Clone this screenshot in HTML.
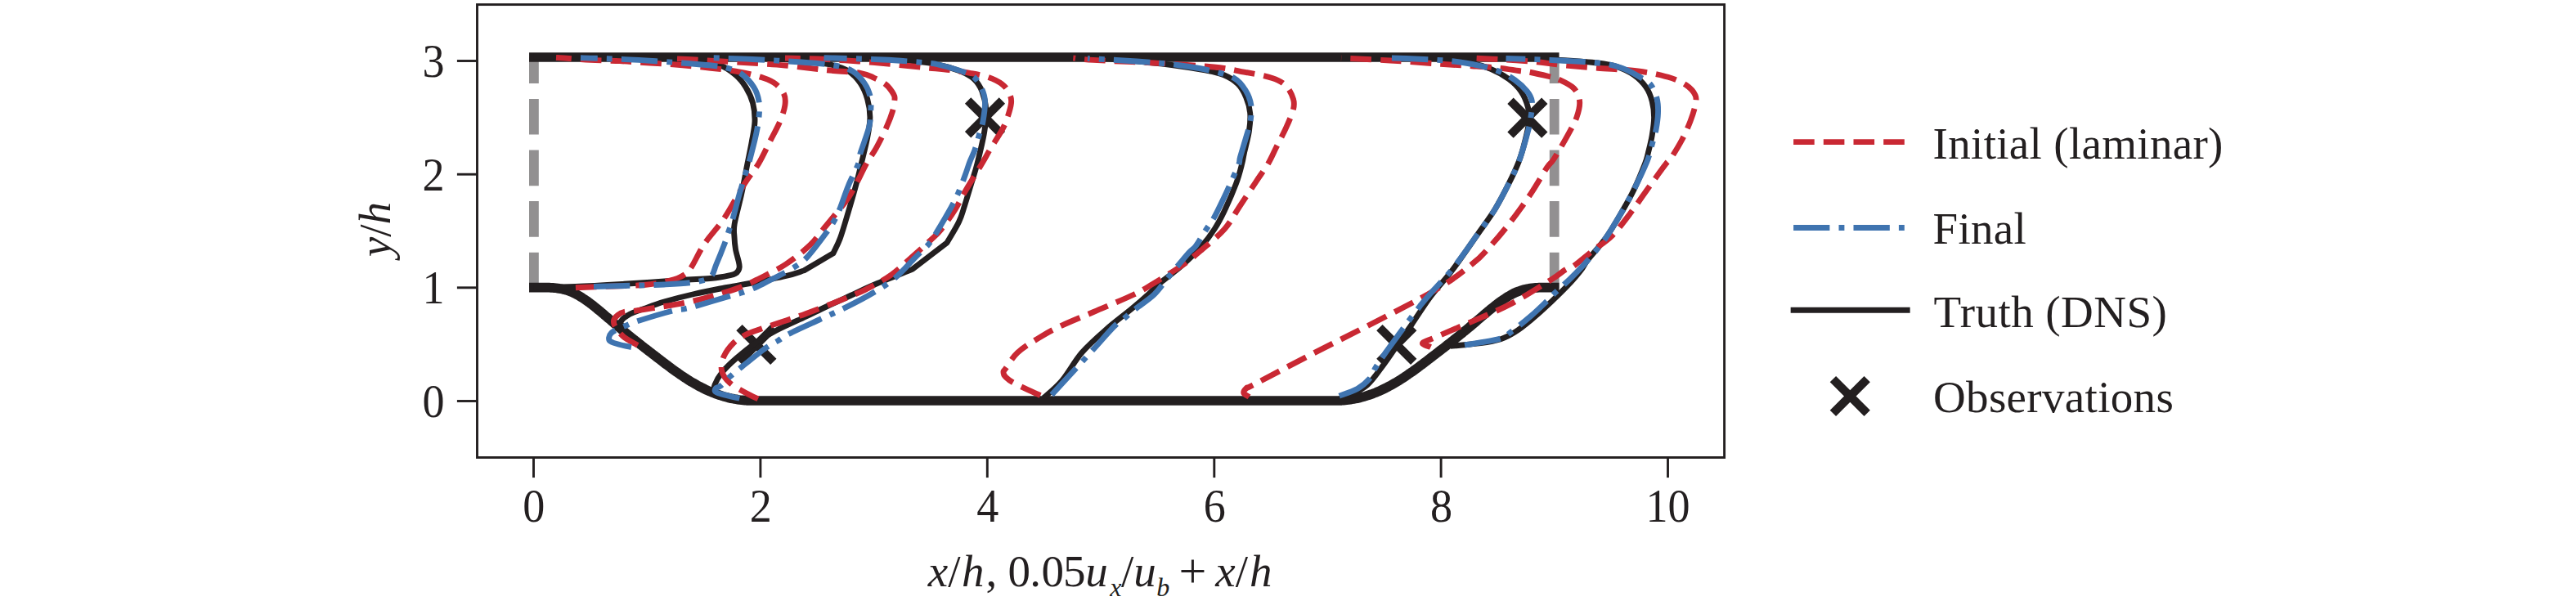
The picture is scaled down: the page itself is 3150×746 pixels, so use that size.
<!DOCTYPE html>
<html lang="en"><head><meta charset="utf-8"><title>Periodic hill velocity profiles</title>
<style>html,body{margin:0;padding:0;background:#fff}svg{display:block}text{font-family:"Liberation Serif",serif;fill:#231f20}</style></head><body>
<svg width="3150" height="746" viewBox="0 0 3150 746">
<rect width="3150" height="746" fill="#fff"/>
<path d="M652.9 352.4 L652.9 70" fill="none" stroke="#929091" stroke-width="11.8" stroke-dasharray="43.7 18.9"/>
<path d="M1900.7 352.4 L1900.7 70" fill="none" stroke="#929091" stroke-width="11.8" stroke-dasharray="43.7 18.9"/>
<g fill="none" stroke="#231f20" stroke-width="11.7" stroke-linecap="square" stroke-linejoin="round">
<path d="M652.9 70 L1900.7 70"/>
<path d="M652.9 351.6 L655 351.6 L657.1 351.6 L659.1 351.6 L661.2 351.6 L663.3 351.6 L665.4 351.6 L667.5 351.6 L669.5 351.6 L671.6 351.7 L673.7 351.8 L675.8 351.9 L677.9 352.1 L679.9 352.3 L682 352.6 L684.1 352.9 L686.2 353.3 L688.3 353.7 L690.3 354.2 L692.4 354.8 L694.5 355.5 L696.6 356.2 L698.7 357 L700.7 357.9 L702.8 358.9 L704.9 360 L707 361.1 L709 362.4 L711.1 363.6 L713.2 365 L715.3 366.4 L717.4 367.8 L719.4 369.3 L721.5 370.8 L723.6 372.4 L725.7 374 L727.8 375.7 L729.8 377.4 L731.9 379.1 L734 380.8 L736.1 382.6 L738.2 384.3 L740.2 386.1 L742.3 387.9 L744.4 389.6 L746.5 391.4 L748.6 393.2 L750.6 395 L752.7 396.8 L754.8 398.5 L756.9 400.3 L759 402 L761 403.7 L763.1 405.4 L765.2 407.1 L767.3 408.8 L769.4 410.5 L771.4 412.2 L773.5 413.8 L775.6 415.5 L777.7 417.1 L779.8 418.8 L781.8 420.4 L783.9 422 L786 423.7 L788.1 425.3 L790.2 426.9 L792.2 428.5 L794.3 430.1 L796.4 431.7 L798.5 433.3 L800.6 434.9 L802.6 436.5 L804.7 438.1 L806.8 439.7 L808.9 441.3 L810.9 442.9 L813 444.5 L815.1 446.1 L817.2 447.6 L819.3 449.2 L821.3 450.7 L823.4 452.2 L825.5 453.7 L827.6 455.2 L829.7 456.6 L831.7 458.1 L833.8 459.5 L835.9 460.9 L838 462.3 L840.1 463.6 L842.1 465 L844.2 466.3 L846.3 467.5 L848.4 468.7 L850.5 469.9 L852.5 471.1 L854.6 472.2 L856.7 473.3 L858.8 474.4 L860.9 475.4 L862.9 476.4 L865 477.4 L867.1 478.3 L869.2 479.2 L871.3 480.1 L873.3 480.9 L875.4 481.7 L877.5 482.4 L879.6 483.1 L881.7 483.8 L883.7 484.5 L885.8 485.1 L887.9 485.6 L890 486.2 L892.1 486.7 L894.1 487.2 L896.2 487.6 L898.3 488 L900.4 488.3 L902.5 488.7 L904.5 489 L906.6 489.2 L908.7 489.4 L910.8 489.6 L912.8 489.8 L914.9 489.9 L917 490 L919.1 490 L921.2 490 L923.2 490 L925.3 490 L927.4 490 L929.5 490 L931.6 490 L933.6 490 L935.7 490 L937.8 490 L939.9 490 L942 490 L944 490 L946.1 490 L948.2 490 L950.3 490 L952.4 490 L954.4 490 L956.5 490 L958.6 490 L960.7 490 L962.8 490 L964.8 490 L966.9 490 L969 490 L971.1 490 L973.2 490 L975.2 490 L977.3 490 L979.4 490 L981.5 490 L983.6 490 L985.6 490 L987.7 490 L989.8 490 L991.9 490 L994 490 L996 490 L998.1 490 L1000.2 490 L1002.3 490 L1004.4 490 L1006.4 490 L1008.5 490 L1010.6 490 L1012.7 490 L1014.8 490 L1016.8 490 L1018.9 490 L1021 490 L1023.1 490 L1025.1 490 L1027.2 490 L1029.3 490 L1031.4 490 L1033.5 490 L1035.5 490 L1037.6 490 L1039.7 490 L1041.8 490 L1043.9 490 L1045.9 490 L1048 490 L1050.1 490 L1052.2 490 L1054.3 490 L1056.3 490 L1058.4 490 L1060.5 490 L1062.6 490 L1064.7 490 L1066.7 490 L1068.8 490 L1070.9 490 L1073 490 L1075.1 490 L1077.1 490 L1079.2 490 L1081.3 490 L1083.4 490 L1085.5 490 L1087.5 490 L1089.6 490 L1091.7 490 L1093.8 490 L1095.9 490 L1097.9 490 L1100 490 L1102.1 490 L1104.2 490 L1106.3 490 L1108.3 490 L1110.4 490 L1112.5 490 L1114.6 490 L1116.7 490 L1118.7 490 L1120.8 490 L1122.9 490 L1125 490 L1127 490 L1129.1 490 L1131.2 490 L1133.3 490 L1135.4 490 L1137.4 490 L1139.5 490 L1141.6 490 L1143.7 490 L1145.8 490 L1147.8 490 L1149.9 490 L1152 490 L1154.1 490 L1156.2 490 L1158.2 490 L1160.3 490 L1162.4 490 L1164.5 490 L1166.6 490 L1168.6 490 L1170.7 490 L1172.8 490 L1174.9 490 L1177 490 L1179 490 L1181.1 490 L1183.2 490 L1185.3 490 L1187.4 490 L1189.4 490 L1191.5 490 L1193.6 490 L1195.7 490 L1197.8 490 L1199.8 490 L1201.9 490 L1204 490 L1206.1 490 L1208.2 490 L1210.2 490 L1212.3 490 L1214.4 490 L1216.5 490 L1218.6 490 L1220.6 490 L1222.7 490 L1224.8 490 L1226.9 490 L1228.9 490 L1231 490 L1233.1 490 L1235.2 490 L1237.3 490 L1239.3 490 L1241.4 490 L1243.5 490 L1245.6 490 L1247.7 490 L1249.7 490 L1251.8 490 L1253.9 490 L1256 490 L1258.1 490 L1260.1 490 L1262.2 490 L1264.3 490 L1266.4 490 L1268.5 490 L1270.5 490 L1272.6 490 L1274.7 490 L1276.8 490 L1278.9 490 L1280.9 490 L1283 490 L1285.1 490 L1287.2 490 L1289.3 490 L1291.3 490 L1293.4 490 L1295.5 490 L1297.6 490 L1299.7 490 L1301.7 490 L1303.8 490 L1305.9 490 L1308 490 L1310.1 490 L1312.1 490 L1314.2 490 L1316.3 490 L1318.4 490 L1320.5 490 L1322.5 490 L1324.6 490 L1326.7 490 L1328.8 490 L1330.8 490 L1332.9 490 L1335 490 L1337.1 490 L1339.2 490 L1341.2 490 L1343.3 490 L1345.4 490 L1347.5 490 L1349.6 490 L1351.6 490 L1353.7 490 L1355.8 490 L1357.9 490 L1360 490 L1362 490 L1364.1 490 L1366.2 490 L1368.3 490 L1370.4 490 L1372.4 490 L1374.5 490 L1376.6 490 L1378.7 490 L1380.8 490 L1382.8 490 L1384.9 490 L1387 490 L1389.1 490 L1391.2 490 L1393.2 490 L1395.3 490 L1397.4 490 L1399.5 490 L1401.6 490 L1403.6 490 L1405.7 490 L1407.8 490 L1409.9 490 L1412 490 L1414 490 L1416.1 490 L1418.2 490 L1420.3 490 L1422.4 490 L1424.4 490 L1426.5 490 L1428.6 490 L1430.7 490 L1432.8 490 L1434.8 490 L1436.9 490 L1439 490 L1441.1 490 L1443.1 490 L1445.2 490 L1447.3 490 L1449.4 490 L1451.5 490 L1453.5 490 L1455.6 490 L1457.7 490 L1459.8 490 L1461.9 490 L1463.9 490 L1466 490 L1468.1 490 L1470.2 490 L1472.3 490 L1474.3 490 L1476.4 490 L1478.5 490 L1480.6 490 L1482.7 490 L1484.7 490 L1486.8 490 L1488.9 490 L1491 490 L1493.1 490 L1495.1 490 L1497.2 490 L1499.3 490 L1501.4 490 L1503.5 490 L1505.5 490 L1507.6 490 L1509.7 490 L1511.8 490 L1513.9 490 L1515.9 490 L1518 490 L1520.1 490 L1522.2 490 L1524.3 490 L1526.3 490 L1528.4 490 L1530.5 490 L1532.6 490 L1534.7 490 L1536.7 490 L1538.8 490 L1540.9 490 L1543 490 L1545 490 L1547.1 490 L1549.2 490 L1551.3 490 L1553.4 490 L1555.4 490 L1557.5 490 L1559.6 490 L1561.7 490 L1563.8 490 L1565.8 490 L1567.9 490 L1570 490 L1572.1 490 L1574.2 490 L1576.2 490 L1578.3 490 L1580.4 490 L1582.5 490 L1584.6 490 L1586.6 490 L1588.7 490 L1590.8 490 L1592.9 490 L1595 490 L1597 490 L1599.1 490 L1601.2 490 L1603.3 490 L1605.4 490 L1607.4 490 L1609.5 490 L1611.6 490 L1613.7 490 L1615.8 490 L1617.8 490 L1619.9 490 L1622 490 L1624.1 490 L1626.2 490 L1628.2 490 L1630.3 490 L1632.4 490 L1634.5 490 L1636.6 490 L1638.6 489.9 L1640.7 489.8 L1642.8 489.6 L1644.9 489.4 L1646.9 489.2 L1649 489 L1651.1 488.7 L1653.2 488.3 L1655.3 488 L1657.3 487.6 L1659.4 487.2 L1661.5 486.7 L1663.6 486.2 L1665.7 485.6 L1667.7 485.1 L1669.8 484.5 L1671.9 483.8 L1674 483.1 L1676.1 482.4 L1678.1 481.7 L1680.2 480.9 L1682.3 480.1 L1684.4 479.2 L1686.5 478.3 L1688.5 477.4 L1690.6 476.4 L1692.7 475.4 L1694.8 474.4 L1696.9 473.3 L1698.9 472.2 L1701 471.1 L1703.1 469.9 L1705.2 468.7 L1707.3 467.5 L1709.3 466.3 L1711.4 465 L1713.5 463.6 L1715.6 462.3 L1717.7 460.9 L1719.7 459.5 L1721.8 458.1 L1723.9 456.6 L1726 455.2 L1728.1 453.7 L1730.1 452.2 L1732.2 450.7 L1734.3 449.2 L1736.4 447.6 L1738.5 446.1 L1740.5 444.5 L1742.6 442.9 L1744.7 441.3 L1746.8 439.7 L1748.8 438.1 L1750.9 436.5 L1753 434.9 L1755.1 433.3 L1757.2 431.7 L1759.2 430.1 L1761.3 428.5 L1763.4 426.9 L1765.5 425.3 L1767.6 423.7 L1769.6 422 L1771.7 420.4 L1773.8 418.8 L1775.9 417.1 L1778 415.5 L1780 413.8 L1782.1 412.2 L1784.2 410.5 L1786.3 408.8 L1788.4 407.1 L1790.4 405.4 L1792.5 403.7 L1794.6 402 L1796.7 400.3 L1798.8 398.5 L1800.8 396.8 L1802.9 395 L1805 393.2 L1807.1 391.4 L1809.2 389.6 L1811.2 387.9 L1813.3 386.1 L1815.4 384.3 L1817.5 382.6 L1819.6 380.8 L1821.6 379.1 L1823.7 377.4 L1825.8 375.7 L1827.9 374 L1830 372.4 L1832 370.8 L1834.1 369.3 L1836.2 367.8 L1838.3 366.4 L1840.4 365 L1842.4 363.6 L1844.5 362.4 L1846.6 361.1 L1848.7 360 L1850.7 358.9 L1852.8 357.9 L1854.9 357 L1857 356.2 L1859.1 355.5 L1861.1 354.8 L1863.2 354.2 L1865.3 353.7 L1867.4 353.3 L1869.5 352.9 L1871.5 352.6 L1873.6 352.3 L1875.7 352.1 L1877.8 351.9 L1879.9 351.8 L1881.9 351.7 L1884 351.6 L1886.1 351.6 L1888.2 351.6 L1890.3 351.6 L1892.3 351.6 L1894.4 351.6 L1896.5 351.6 L1898.6 351.6 L1900.7 351.6"/>
</g>
<path d="M904 400.6 L945.8 442.4 M904 442.4 L945.8 400.6" fill="none" stroke="#231f20" stroke-width="10.4"/>
<path d="M1183.6 123 L1225.4 164.8 M1183.6 164.8 L1225.4 123" fill="none" stroke="#231f20" stroke-width="10.4"/>
<path d="M1686.9 400.6 L1728.7 442.4 M1686.9 442.4 L1728.7 400.6" fill="none" stroke="#231f20" stroke-width="10.4"/>
<path d="M1847 123.3 L1888.8 165.1 M1847 165.1 L1888.8 123.3" fill="none" stroke="#231f20" stroke-width="10.4"/>
<g fill="none" stroke="#231f20" stroke-width="6.9" stroke-linecap="butt" stroke-linejoin="round">
<path d="M652.5 351.6 C661.1 351.4 685.5 351.1 703.9 350.4 C722.3 349.7 740.8 348.6 762.9 347.3 C785 346 818.7 343.5 836.7 342.3 C854.7 341.1 861.6 341.2 871 340.3 C880.4 339.4 888.3 337.6 893 336.6 C897.7 335.7 897.7 335.5 899.3 334.6 C900.9 333.7 902 332.4 902.8 331 C903.6 329.6 904.1 328.3 904.2 326.5 C904.3 324.7 904.1 323.6 903.3 320 C902.5 316.4 900.4 310 899.5 305 C898.6 300 898.2 295.2 898 290 C897.8 284.8 896.7 282.7 898.2 273.8 C899.7 264.9 904.2 249.2 906.8 236.9 C909.4 224.6 911.9 210.7 914 200 C916.1 189.3 917.8 181.6 919.3 173 C920.8 164.4 922.8 156.2 923 148.4 C923.2 140.6 922.4 133.2 920.6 126.2 C918.8 119.2 915.5 112.3 912 106.6 C908.5 100.9 905 96.3 899.7 91.8 C894.4 87.3 888.3 82.5 880 79.5 C871.7 76.5 863.3 75.4 850 74 C836.7 72.6 825 71.8 800 71 C775 70.2 724.6 69.8 700 69.5 C675.4 69.2 660.4 69 652.5 68.9"/>
<path d="M762 399 C761.4 398.2 757.5 396.8 758.5 394.5 C759.5 392.2 763.1 388.3 767.9 385.5 C772.7 382.7 780.1 380.2 787.5 377.5 C794.9 374.8 801.9 372 812.1 369 C822.4 366 836.7 362.3 849 359.5 C861.3 356.7 874.6 354.2 885.9 352 C897.2 349.8 904.5 348.9 917 346.5 C929.5 344.1 950.1 340.1 961.1 337.5 C972.1 334.9 977.8 332.5 983.3 330.8 C992.2 325.6 1010 315.1 1018.9 309.8 C1021 305.1 1024.4 299.5 1027.5 291 C1030.6 282.5 1034.1 270.1 1037.4 259 C1040.7 247.9 1044.6 234.4 1047.2 224.6 C1049.8 214.8 1051 209.4 1053.3 200 C1055.5 190.6 1058.9 177.4 1060.7 168 C1062.5 158.6 1063.9 151.2 1063.9 143.4 C1063.9 135.6 1062.7 128.3 1060.7 121.3 C1058.7 114.3 1055.9 107.3 1052 101.6 C1048.1 95.9 1043.1 90.6 1037.4 86.9 C1031.7 83.2 1027.3 81.7 1017.7 79.5 C1008.1 77.3 999.6 75.6 980 74 C960.4 72.4 913.3 70.7 900 70"/>
<path d="M878 482 C877.3 481.3 874.7 479.9 874 478 C873.3 476.1 872.6 474.3 874 470.6 C875.4 466.9 878.3 461.2 882.6 455.9 C886.9 450.6 892.8 444.8 899.8 438.7 C906.8 432.6 916.2 424.7 924.4 419 C932.6 413.3 938.8 409.6 949 404.3 C959.2 399 975.6 391.9 985.9 387 C996.1 382.1 1001.5 379.2 1010.5 375 C1019.5 370.8 1030 366.1 1040 361.5 C1050 356.9 1057.9 352.9 1070.6 347.5 C1083.3 342.1 1104.7 333.7 1116 329.1 C1126.5 321.1 1147.3 305.1 1157.8 297.1 C1161.5 290.7 1169 278.9 1172.6 271.3 C1176.2 263.7 1177 259.3 1179.5 251.6 C1182 243.9 1185 233.6 1187.6 225 C1190.2 216.4 1192.3 210.7 1195 200 C1197.7 189.3 1202 171.7 1203.8 160.6 C1205.6 149.5 1206.2 141.8 1205.7 133.6 C1205.2 125.4 1203.2 117.7 1200.8 111.5 C1198.3 105.3 1195.5 100.8 1191 96.7 C1186.5 92.6 1181.6 90 1173.8 86.9 C1166 83.8 1156.6 80.6 1144.3 78.3 C1132 76 1117.4 74.4 1100 73 C1082.6 71.6 1050 70.5 1040 70"/>
<path d="M1276.2 486.6 C1279.9 483.1 1290.6 474.9 1298.4 465.7 C1306.2 456.5 1313.9 441.8 1322.9 431.3 C1331.9 420.9 1342.2 412 1352.5 403 C1362.8 394 1375.8 384.4 1384.4 377.2 C1393 370 1397.9 365.6 1404.1 360 C1410.2 354.4 1414.3 349.8 1421.3 343.9 C1428.3 337.9 1437.7 331.7 1445.9 324.3 C1454.1 316.9 1464 307.1 1470.5 299.7 C1477 292.3 1480.8 286.8 1485.2 280 C1489.6 273.2 1492.3 268.2 1496.7 259 C1501.1 249.8 1507.8 234.4 1511.5 224.6 C1515.2 214.8 1517.2 206.2 1518.8 200 C1520.4 193.8 1519.9 194.3 1521.3 187.7 C1522.7 181.1 1526.2 168.8 1527.4 160.6 C1528.6 152.4 1529.3 145.5 1528.7 138.5 C1528.1 131.5 1526.2 124.7 1523.7 118.8 C1521.2 112.9 1518.4 107.4 1513.9 102.9 C1509.4 98.4 1503.7 94.7 1496.7 91.8 C1489.7 88.9 1482.8 87.8 1472.1 85.7 C1461.4 83.7 1448.1 81.5 1432.8 79.5 C1417.5 77.5 1398.8 75.6 1380 74 C1361.2 72.4 1330 70.7 1320 70"/>
<path d="M1647.5 485.4 C1651.6 482.9 1664.7 477.2 1672.1 470.6 C1679.5 464.1 1685.6 454.3 1691.8 446.1 C1698 437.9 1703.3 429.7 1709 421.5 C1714.7 413.3 1719.5 406.6 1726.2 396.9 C1732.9 387.1 1740.9 374.1 1749.2 363 C1757.5 351.9 1766.8 342.5 1776.2 330 C1785.6 317.5 1797.1 300.5 1805.7 288.2 C1814.3 275.9 1821.3 266.8 1827.9 256.2 C1834.5 245.5 1840.2 234.1 1845.1 224.3 C1850 214.5 1854.1 205.8 1857.4 197.2 C1860.7 188.6 1862.7 181 1864.7 172.9 C1866.8 164.8 1869.1 155.4 1869.7 148.4 C1870.3 141.4 1870.1 137.2 1868.4 131.1 C1866.8 124.9 1863.7 117.2 1859.8 111.5 C1855.9 105.8 1851.2 101.2 1845.1 96.7 C1838.9 92.2 1830.7 87.7 1822.9 84.4 C1815.1 81.1 1808.9 79.1 1798.4 77 C1787.9 74.9 1776.4 73.2 1760 72 C1743.6 70.8 1710 70.3 1700 70"/>
<path d="M1773.8 423.3 C1779.9 422.7 1800.4 421 1810.6 419.6 C1820.8 418.2 1828.2 416.9 1835.2 414.7 C1842.2 412.4 1846.3 410 1852.5 406.1 C1858.7 402.2 1864.7 397.5 1872.1 391.3 C1879.5 385.1 1888.5 377 1896.7 369.2 C1904.9 361.4 1915.2 351.1 1921.3 344.6 C1927.4 338.1 1930.2 334.4 1933.6 330 C1937 325.6 1936.5 324.5 1941.5 318 C1946.5 311.5 1956.6 300.8 1963.6 291 C1970.6 281.2 1977.6 268.8 1983.3 259 C1989 249.2 1993.3 241.8 1998 232 C2002.7 222.2 2008.7 207.4 2011.6 200 C2014.5 192.6 2013.8 193.4 2015.2 187.7 C2016.6 182 2019 173 2020.2 165.6 C2021.4 158.2 2022.6 150.4 2022.6 143.4 C2022.6 136.4 2021.8 129.9 2020.2 123.8 C2018.6 117.7 2016.5 111.9 2012.8 106.6 C2009.1 101.3 2003.7 95.9 1998 91.8 C1992.3 87.7 1985.8 84.5 1978.4 82 C1971 79.5 1965.7 78.4 1953.8 77 C1941.9 75.6 1924.3 74.5 1907 73.4 C1889.7 72.3 1859.5 71 1850 70.5"/>
</g>
<g fill="none" stroke="#c92833" stroke-width="6.9" stroke-dasharray="25.6 11.1" stroke-linejoin="round">
<path d="M703.9 351.7 C711.6 351.4 736.1 350.5 750 350 C763.9 349.5 777.2 349.4 787.5 348.5 C797.8 347.6 804.6 346.4 812 344.8 C819.4 343.2 826.5 341.4 831.8 338.7 C837.1 336 839.1 335.6 844 328.9 C848.9 322.2 854.3 308.8 861.3 298.4 C868.3 288 877.7 278.7 885.9 266.4 C894.1 254.1 903.5 235.7 910.5 224.6 C917.5 213.5 922.5 208.6 927.7 200 C932.9 191.4 937.1 181.6 941.5 173 C945.9 164.4 950.7 155.8 953.8 148.4 C956.9 141 959.1 134.2 959.9 128.7 C960.7 123.2 960.6 119.5 958.7 115.2 C956.9 110.9 952.9 106.2 948.8 102.9 C944.7 99.6 941.3 98 934 95.5 C926.7 93 915.8 90.1 905 88.1 C894.2 86 881.2 84.6 869 83.2 C856.8 81.8 844.3 80.5 832 79.5 C819.7 78.5 807.3 77.8 795 77 C782.7 76.2 770.2 75.2 758 74.6 C745.8 74 733.3 74 722 73.4 C710.7 72.8 697 71.5 690 71 C683 70.5 681.7 70.6 680 70.5" stroke-dashoffset="0"/>
<path d="M783 424 C779.7 422 768.2 416.4 763 412.2 C757.8 408 753.9 402.2 751.9 398.7 C749.9 395.2 750.1 393.6 750.7 391.3 C751.3 389.1 753.6 386.8 755.6 385.2 C757.6 383.6 759.5 382.3 763 381.5 C766.5 380.7 770.4 381 776.5 380.2 C782.6 379.4 789.8 378.2 799.8 376.6 C809.8 375 824.6 372.9 836.7 370.4 C848.8 367.9 860.7 365.1 872.4 361.8 C884.1 358.5 897.3 354.3 906.8 350.7 C916.3 347.1 920.2 344.8 929.2 340.2 C938.2 335.6 950.9 329.8 961.1 323 C971.4 316.2 982.9 307 990.7 299.6 C998.5 292.2 1003 284.6 1007.9 278.7 C1012.8 272.8 1015.2 270 1020.1 263.9 C1025 257.8 1032.5 249.2 1037.4 241.8 C1042.3 234.4 1046 226.7 1049.7 219.7 C1053.4 212.7 1055.8 206.6 1059.5 200 C1063.2 193.4 1067.7 187.7 1071.8 180.3 C1075.9 172.9 1080.7 163.1 1084 155.7 C1087.3 148.3 1089.8 141.7 1091.5 136 C1093.2 130.3 1093.8 124.8 1094 121.3 C1094.2 117.8 1094.4 118.1 1092.7 115.2 C1091 112.3 1087.9 107.3 1084 104 C1080.1 100.7 1074.6 98 1069.3 95.5 C1064 93 1061.9 90.9 1052 89.3 C1042.1 87.7 1025.3 87.2 1010 85.7 C994.7 84.2 978.3 81.6 960 80 C941.7 78.4 918.3 77.2 900 76 C881.7 74.8 863.3 73.8 850 73 C836.7 72.2 825 71.8 820 71.5" stroke-dashoffset="-3.7"/>
<path d="M926.9 487.9 C924.4 486.7 917.8 483.8 912 480.5 C906.2 477.2 897.3 472.7 892.4 468.2 C887.5 463.7 883.8 458.7 882.6 453.4 C881.4 448.1 882.5 441.9 885 436.2 C887.5 430.5 892.9 423.5 897.4 419 C901.9 414.5 906.3 412.1 912 409.2 C917.7 406.3 923.6 404.7 931.8 401.8 C940 398.9 952.3 395.1 961.3 392 C970.3 388.9 975.5 387.3 985.9 383.4 C996.3 379.5 1011.8 373.7 1023.9 368.8 C1036 363.9 1047.3 359.6 1058.4 354.1 C1069.5 348.6 1080.5 342.7 1090.3 335.7 C1100.1 328.7 1109.4 319.4 1117.4 312.3 C1125.4 305.2 1132.7 298.6 1138.2 293.4 C1143.7 288.2 1145.6 287.2 1150.5 281.1 C1155.4 275 1162.8 264.4 1167.7 256.6 C1172.6 248.8 1174.5 243.8 1180 234.4 C1185.5 225 1195.7 208.6 1200.8 200 C1205.9 191.4 1206.9 189 1210.6 182.8 C1214.3 176.7 1219.6 168.8 1222.9 163.1 C1226.2 157.4 1228 154.6 1230.3 148.4 C1232.6 142.2 1235.9 131.9 1236.5 126.2 C1237.1 120.5 1235.8 117.8 1234 113.9 C1232.2 110 1229.7 106.2 1225.4 102.9 C1221.1 99.6 1214.8 96.6 1208.2 94.3 C1201.6 92 1193.8 90.7 1186 89.3 C1178.2 87.9 1169.7 86.7 1161.5 85.7 C1153.3 84.7 1147.2 84.2 1136.9 83.2 C1126.7 82.2 1114.5 80.9 1100 79.5 C1085.5 78.1 1066.7 76.2 1050 75 C1033.3 73.8 1015 72.7 1000 72 C985 71.3 966.7 71.2 960 71" stroke-dashoffset="0"/>
<path d="M1276.2 485.4 C1270.5 482.7 1249.6 473.5 1241.8 469.4 C1234 465.3 1232 463.2 1229.5 460.8 C1227 458.4 1227 456.6 1227 455 C1227 453.4 1226.6 454.9 1229.5 451 C1232.4 447.1 1237.7 437.4 1244.3 431.3 C1250.9 425.2 1259.9 419.6 1268.9 414.1 C1277.9 408.6 1285.3 404.2 1298.4 398.1 C1311.5 392 1332.8 383.6 1347.5 377.2 C1362.2 370.8 1376.7 364.9 1386.9 360 C1397.2 355.1 1399.2 353.6 1409 347.6 C1418.8 341.7 1435.7 331.5 1445.9 324.3 C1456.2 317.1 1461.9 312 1470.5 304.6 C1479.1 297.2 1489.8 288.8 1497.5 280 C1505.2 271.2 1510 261.2 1516.4 251.6 C1522.8 241.9 1530.3 230.7 1536 222.1 C1541.7 213.5 1546.7 207 1550.8 200 C1554.9 193 1556.9 187.7 1560.6 180.3 C1564.3 172.9 1569.4 163.5 1572.9 155.7 C1576.4 147.9 1580.1 139.3 1581.5 133.6 C1582.9 127.9 1582.9 126 1581.5 121.3 C1580.1 116.6 1577.2 109.6 1572.9 105.3 C1568.6 101 1564.3 98.4 1555.7 95.5 C1547.1 92.6 1533.2 90.3 1521.3 88.1 C1509.4 85.8 1502.9 83.8 1484.4 82 C1466 80.2 1435.2 78.4 1410.6 77 C1386 75.6 1353.3 74.4 1336.9 73.4 C1320.5 72.4 1316.4 71.3 1312.3 70.9" stroke-dashoffset="-4.5"/>
<path d="M1527.5 485.4 C1526.4 484.6 1521.3 482.4 1520.8 480.5 C1520.3 478.6 1522.6 475.9 1524.5 474.3 C1526.4 472.7 1519.4 477.5 1532 471 C1544.6 464.5 1564.3 453.8 1600 435.3 C1635.7 416.8 1712.6 378.7 1745.9 360 C1779.2 341.3 1787.2 332.9 1800 323 C1812.8 313.1 1815 309.2 1822.9 300.5 C1830.8 291.8 1839.3 281.6 1847.5 271 C1855.7 260.4 1864.7 247.7 1872.1 236.6 C1879.5 225.5 1887.2 211.5 1891.8 204.6 C1896.4 197.7 1895.5 201.5 1899.7 195 C1903.9 188.5 1912.2 174.2 1916.9 165.6 C1921.6 157 1925.5 150.4 1928 143.4 C1930.5 136.4 1932.2 129.7 1931.6 123.8 C1931 117.9 1928.8 112.3 1924.3 107.8 C1919.8 103.2 1909.6 98.9 1904.6 96.5 C1899.5 94.1 1899.8 94.9 1894 93.5 C1888.2 92.1 1876.2 89.3 1870 88.1 C1863.8 86.9 1863.2 87.3 1857 86.5 C1850.8 85.7 1842.5 84.2 1833 83.2 C1823.5 82.2 1811.9 81.5 1800 80.7 C1788.1 79.9 1778.2 79.4 1761.5 78.3 C1744.8 77.2 1720.2 75.2 1700 74 C1679.8 72.8 1650 71.5 1640 71" stroke-dashoffset="0"/>
<path d="M1749.5 424.5 C1747.8 423.7 1738.8 421.5 1739.5 419.6 C1740.2 417.7 1743.7 417.5 1753.5 413.2 C1763.3 408.9 1782.7 400.7 1798.4 393.8 C1814.1 386.9 1831.1 380.2 1847.5 371.6 C1863.9 363 1885.6 349 1896.7 342.1 C1907.8 335.2 1909.3 332.8 1913.9 330 C1918.5 327.2 1918.5 329.4 1924.3 325.4 C1930.1 321.3 1941 311.8 1948.8 305.7 C1956.6 299.6 1963.6 295.9 1971 288.5 C1978.4 281.1 1985.3 271.8 1993.1 261.5 C2000.9 251.2 2010.3 237.2 2017.7 227 C2025.1 216.8 2033.3 205.3 2037.4 200 C2041.5 194.7 2039 199.9 2042.3 195 C2045.6 190.1 2052.9 178.3 2057 170.5 C2061.1 162.7 2064.2 155.4 2066.9 148.4 C2069.6 141.4 2072 134 2073 128.7 C2074 123.4 2074.8 120.5 2073 116.4 C2071.2 112.3 2067.5 107.8 2062 104.1 C2056.5 100.4 2049.6 97.2 2039.8 94.3 C2030 91.4 2017.3 88.8 2003 86.9 C1988.7 85.1 1969.4 84.4 1953.8 83.2 C1938.2 82 1921.8 80.7 1909.5 79.5 C1897.2 78.3 1891.6 76.9 1880 75.8 C1868.4 74.7 1853.3 73.8 1840 73 C1826.7 72.2 1806.7 71.3 1800 71" stroke-dashoffset="0"/>
</g>
<g fill="none" stroke="#3f74b0" stroke-width="6.9" stroke-dasharray="44.3 11.1 6.9 11.1" stroke-linejoin="round">
<path d="M726 350.5 C733.3 350.3 755.7 349.7 770 349.3 C784.3 348.9 798.8 348.7 812 348 C825.2 347.3 839.5 346.6 849 345 C858.5 343.4 864.2 342.4 868.7 338.7 C873.2 335 873.1 329.7 876 323 C878.9 316.3 883.4 305 885.9 298.4 C888.4 291.8 889.2 288.5 890.8 283.6 C892.4 278.7 893.5 276.6 895.7 268.8 C898 261 901.6 246.3 904.3 236.9 C907 227.5 909.6 219.3 911.7 212.3 C913.8 205.3 914.8 202.8 916.9 195 C919 187.2 922.4 174.2 924.3 165.6 C926.1 157 927.4 150.4 928 143.4 C928.6 136.4 929 129.9 928 123.8 C927 117.7 925.3 112.1 921.8 106.6 C918.3 101.1 912.4 94.5 907 90.6 C901.6 86.7 894.8 84.8 889.6 83.2 C884.4 81.6 885.3 81.7 876 80.7 C866.7 79.7 849.8 78.2 834 77 C818.2 75.8 798.3 74.4 781 73.4 C763.7 72.5 741.8 71.7 730 71.3 C718.2 70.9 713.3 70.9 710 70.8" stroke-dashoffset="0"/>
<path d="M772 424.5 C769.5 424 761.2 422.5 757 421.3 C752.8 420.1 748.6 418.9 746.5 417.5 C744.4 416.1 744.4 414.7 744.6 413 C744.8 411.3 745.8 409 747.5 407.3 C749.2 405.6 752 404.1 755 402.6 C758 401.1 761.2 399.9 765.4 398.2 C769.6 396.5 770.8 395.5 780.2 392.5 C789.6 389.5 812.6 382.6 822 380.2 C831.4 377.8 831.8 378.8 836.7 377.8 C841.6 376.8 842.1 376.8 851.5 374.1 C860.9 371.4 884 364.5 893.2 361.8 C902.4 359.1 901.5 359.9 906.8 358.1 C912.1 356.3 919.5 353.4 925 351 C930.5 348.6 935.2 345.9 940 343.5 C944.8 341.1 948.2 339.5 953.8 336.5 C959.4 333.5 967.7 329.3 973.4 325.4 C979.1 321.5 982.1 319.9 988.2 313.1 C994.4 306.3 1005 292 1010.3 284.8 C1015.6 277.6 1017.2 275.1 1020.1 270 C1023 264.9 1024.6 261.2 1027.5 254 C1030.4 246.8 1033.7 236 1037.4 227 C1041.1 218 1047.3 206.6 1049.7 200 C1052.1 193.4 1050.8 192.2 1052 187.7 C1053.2 183.2 1055.1 178.7 1057 173 C1058.9 167.3 1061.9 159.6 1063.2 153.3 C1064.5 147 1064.6 140.8 1064.8 135 C1065 129.2 1065.7 124.4 1064.4 118.8 C1063.1 113.2 1060.7 106.9 1057 101.6 C1053.3 96.3 1048.5 90.5 1042.3 86.9 C1036.1 83.3 1030.4 81.8 1020 80 C1009.6 78.2 996.7 77.2 980 76 C963.3 74.8 936.7 73.3 920 72.5 C903.3 71.7 888.7 71.3 880 71 C871.3 70.7 870 70.8 868 70.8" stroke-dashoffset="0"/>
<path d="M907.2 487.9 C902.3 486.7 883.1 482.6 877.7 480.5 C872.3 478.4 874.4 476.4 875 475 C875.6 473.6 878.5 474.3 881.4 471.9 C884.3 469.5 888.1 464.7 892.4 460.8 C896.7 456.9 899.8 454.4 907.2 448.5 C914.6 442.6 929.3 430.5 936.7 425.2 C944.1 419.9 946.8 419.4 951.5 416.6 C956.2 413.8 956.5 412.5 964.9 408.2 C973.3 403.9 990.3 396.3 1001.8 391 C1013.3 385.7 1022.7 381.7 1033.8 376.2 C1044.9 370.7 1058 363.9 1068.2 357.8 C1078.4 351.7 1086.8 346.3 1095.2 339.3 C1103.6 332.3 1111.8 322.4 1118.5 315.6 C1125.2 308.8 1131.2 303.7 1135.7 298.4 C1140.2 293.1 1141.1 291 1145.6 283.6 C1150.1 276.2 1158.5 261.9 1162.8 254.1 C1167.1 246.3 1168.5 243.4 1171.4 236.9 C1174.3 230.4 1177.6 221.4 1180 214.8 C1182.4 208.2 1184 202.8 1186 197.5 C1188 192.2 1190.4 188.1 1192.2 182.8 C1194 177.5 1195.5 171.3 1197.1 165.6 C1198.7 159.9 1200.8 155.4 1202 148.4 C1203.2 141.4 1204.7 130.4 1204.5 123.8 C1204.3 117.2 1202.8 113.7 1200.8 109 C1198.8 104.3 1195.9 99 1192.2 95.5 C1188.5 92 1185.9 90.8 1178.7 88.1 C1171.5 85.4 1156.6 81.3 1149.2 79.5 C1141.8 77.7 1145.9 78.1 1134.4 77 C1122.9 75.9 1099.1 74 1080 73 C1060.9 72 1032.1 71.4 1020 71 C1007.9 70.6 1009.6 70.8 1007.5 70.7" stroke-dashoffset="-3"/>
<path d="M1283.6 485.4 C1288.5 480.1 1304.1 463.2 1313.1 453.4 C1322.1 443.6 1329.5 435.4 1337.7 426.4 C1345.9 417.4 1356.2 405.4 1362.3 399.3 C1368.4 393.2 1370.1 393.2 1374.6 389.5 C1379.1 385.8 1383.1 382.1 1389.3 377.2 C1395.5 372.3 1404.9 366.4 1411.5 360 C1418.1 353.6 1421.7 347.4 1428.7 339 C1435.7 330.6 1447.7 315.9 1453.3 309.5 C1458.9 303.1 1458.8 305.5 1462.3 300.8 C1465.8 296.1 1470.9 286.8 1474.6 281.1 C1478.3 275.4 1480.7 272.9 1484.4 266.4 C1488.1 259.8 1492.8 250 1496.7 241.8 C1500.6 233.6 1504.7 224.2 1507.8 217.2 C1510.9 210.2 1513.7 204.1 1515.1 200 C1516.5 195.9 1515 197.9 1516.4 192.6 C1517.8 187.3 1521.6 175.4 1523.7 168 C1525.8 160.6 1528 154.6 1529 148 C1530 141.4 1530.8 134.8 1529.9 128.7 C1529 122.6 1527.2 117 1523.7 111.5 C1520.2 106 1516.8 99.8 1509 95.5 C1501.2 91.2 1488.5 88.4 1477 85.7 C1465.5 83 1454.5 81.3 1440 79.5 C1425.5 77.7 1408.3 76.3 1390 75 C1371.7 73.7 1340 72.1 1330 71.5" stroke-dashoffset="-3.5"/>
<path d="M1637.7 484.2 C1641.4 482.8 1653.7 479.1 1659.8 475.6 C1665.9 472.1 1670.9 467.6 1674.6 463.3 C1678.3 459 1678.7 455.1 1682 449.8 C1685.3 444.5 1689 438.9 1694.3 431.3 C1699.6 423.7 1709 411.1 1713.9 404.3 C1718.8 397.5 1720.1 395.6 1723.8 390.7 C1727.5 385.8 1731.9 379.9 1736 374.8 C1740.1 369.7 1741.6 367.6 1748.3 360 C1755 352.4 1766.4 341 1776 329 C1785.6 317 1797 300.3 1805.7 288.2 C1814.4 276.1 1821.3 266.8 1827.9 256.2 C1834.5 245.5 1840.2 234.1 1845.1 224.3 C1850 214.5 1853.5 207.8 1857.4 197.2 C1861.3 186.6 1866 169.8 1868.4 160.6 C1870.9 151.4 1871.3 148.3 1872.1 142.2 C1872.9 136.1 1874.1 128.9 1873.3 123.8 C1872.5 118.7 1870.7 115.8 1867.2 111.5 C1863.7 107.2 1857.9 101.8 1852.5 97.9 C1847.1 94 1842 90.9 1835 88 C1828 85.1 1820.8 82.9 1810.6 80.7 C1800.4 78.5 1788.9 76.1 1773.8 74.6 C1758.7 73.1 1732.3 72.1 1720 71.5 C1707.7 70.9 1703.3 71 1700 70.9" stroke-dashoffset="0"/>
<path d="M1791 422 C1798 420.8 1823.4 417.3 1832.8 414.7 C1842.2 412.1 1841 410.8 1847.5 406.1 C1854 401.4 1864.7 392.8 1872.1 386.4 C1879.5 380 1886.9 372.7 1891.8 368 C1896.7 363.3 1896.7 362.8 1901.6 358.1 C1906.5 353.4 1914.7 346.2 1921.3 339.7 C1927.9 333.2 1934 327.1 1941 319 C1948 310.9 1956.5 301 1963.6 291 C1970.6 281 1977.6 268.8 1983.3 259 C1989 249.2 1992.9 242.2 1998 232 C2003.1 221.8 2010.3 206.7 2014 197.5 C2017.7 188.3 2018.4 183.2 2020.2 176.6 C2022 170 2023.9 164.5 2025.1 158.2 C2026.3 151.8 2027.3 144.7 2027.5 138.5 C2027.7 132.3 2027.7 127 2026.3 121.3 C2024.9 115.6 2022.4 108.6 2018.9 104.1 C2015.4 99.6 2011.3 97.8 2005.4 94.3 C1999.5 90.8 1991.9 86.1 1983.3 83.2 C1974.7 80.3 1968.5 78.6 1953.8 77 C1939.1 75.4 1913.7 74.3 1895 73.4 C1876.3 72.5 1850.4 71.8 1841.5 71.5" stroke-dashoffset="0"/>
</g>
<rect x="583.5" y="5.6" width="1525.1" height="553.9" fill="none" stroke="#231f20" stroke-width="2.9"/>
<g stroke="#231f20" stroke-width="2.9" fill="none">
<path d="M652.5 559.5 V584.1"/>
<path d="M929.9 559.5 V584.1"/>
<path d="M1207.3 559.5 V584.1"/>
<path d="M1484.8 559.5 V584.1"/>
<path d="M1762.1 559.5 V584.1"/>
<path d="M2039.5 559.5 V584.1"/>
<path d="M583.5 490.5 H558.9"/>
<path d="M583.5 351.8 H558.9"/>
<path d="M583.5 213.2 H558.9"/>
<path d="M583.5 74.5 H558.9"/>
</g>
<g font-size="57" text-anchor="middle">
<text transform="translate(652.9 637.7) scale(0.95 1)">0</text>
<text transform="translate(930.3 637.7) scale(0.95 1)">2</text>
<text transform="translate(1207.8 637.7) scale(0.95 1)">4</text>
<text transform="translate(1485.2 637.7) scale(0.95 1)">6</text>
<text transform="translate(1762.5 637.7) scale(0.95 1)">8</text>
<text transform="translate(2039.6 637.7) scale(0.95 1)">10</text>
</g>
<g font-size="57" text-anchor="end">
<text transform="translate(543.6 510) scale(0.95 1)">0</text>
<text transform="translate(543.6 371.3) scale(0.95 1)">1</text>
<text transform="translate(543.6 232.7) scale(0.95 1)">2</text>
<text transform="translate(543.6 94) scale(0.95 1)">3</text>
</g>
<text x="1345.2" y="717.1" font-size="55" text-anchor="middle" letter-spacing="0.18"><tspan font-style="italic">x</tspan>/<tspan font-style="italic" dx="1.2">h</tspan><tspan dx="1.8">,</tspan><tspan dx="-0.7"> </tspan>0<tspan dx="-1">.</tspan><tspan dx="0.3">0</tspan><tspan dx="-1.3">5</tspan><tspan font-style="italic" dx="-0.3">u</tspan><tspan font-style="italic" font-size="32" dx="2.3" dy="12.3">x</tspan><tspan dx="-0.8" dy="-12.3">/</tspan><tspan font-style="italic">u</tspan><tspan font-style="italic" font-size="32" dx="0.1" dy="12.3">b</tspan><tspan dy="-12.3"> </tspan><tspan font-size="60" dx="-2.9" dy="1.3">+</tspan><tspan dy="-1.3"> </tspan><tspan font-style="italic" dx="-3">x</tspan><tspan dx="-0.1">/</tspan><tspan font-style="italic" dx="1.7">h</tspan></text>
<text transform="translate(477.4 280.6) rotate(-90)" font-size="55" text-anchor="middle"><tspan font-style="italic">y</tspan>/<tspan font-style="italic">h</tspan></text>
<path d="M2193.1 173.6 H2332.2" fill="none" stroke="#c92833" stroke-width="6.9" stroke-dasharray="25.6 11.1"/>
<path d="M2193.1 278.5 H2332.2" fill="none" stroke="#3f74b0" stroke-width="6.9" stroke-dasharray="44.3 11.1 6.9 11.1"/>
<path d="M2193.1 379.2 H2332.2" fill="none" stroke="#231f20" stroke-width="6.9" stroke-linecap="square"/>
<path d="M2241.4 463.6 L2283.2 505.4 M2241.4 505.4 L2283.2 463.6" fill="none" stroke="#231f20" stroke-width="10.4"/>
<g font-size="55">
<text x="2363.6" y="193.8" letter-spacing="0.32">Initial (laminar)</text>
<text x="2363.6" y="297.8" letter-spacing="0.3">Final</text>
<text x="2364.6" y="399.8" letter-spacing="0.45">Truth (DNS)</text>
<text x="2364" y="504" letter-spacing="0.33">Observations</text>
</g>
</svg></body></html>
